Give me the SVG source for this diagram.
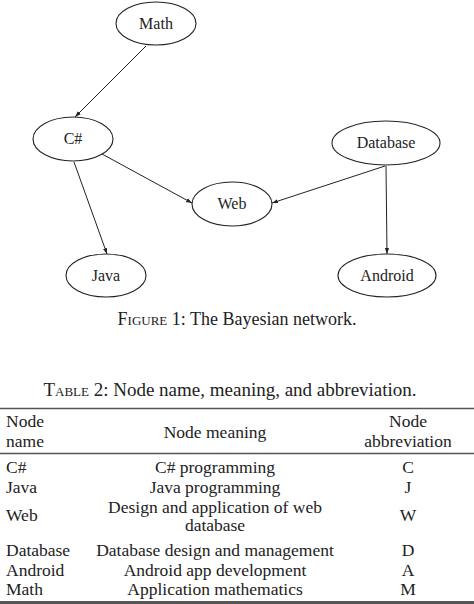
<svg xmlns="http://www.w3.org/2000/svg" width="474" height="604" viewBox="0 0 474 604">
<defs>
<style>
.n{fill:#fff;stroke:#222;stroke-width:1.1}
.lb{font-family:"Liberation Serif",serif;font-size:16px;fill:#222;text-anchor:middle}
.e{stroke:#222;stroke-width:1;fill:none;marker-end:url(#ah)}
.t{font-family:"Liberation Serif",serif;font-size:17.5px;fill:#222}
.c{font-family:"Liberation Serif",serif;font-size:18px;fill:#222;text-anchor:middle}
.sc{font-variant:small-caps}
.m{text-anchor:middle}
.rule{stroke:#555;fill:none}
</style>
<marker id="ah" viewBox="0 0 10 10" refX="10" refY="5" markerWidth="6" markerHeight="6" orient="auto" markerUnits="userSpaceOnUse">
<path d="M0,1.5 L10,5 L0,8.5 Z" fill="#222"/>
</marker>
</defs>
<rect width="474" height="604" fill="#fff"/>
<g id="connectors">
<line class="e" x1="146" y1="46" x2="75" y2="117"/>
<line class="e" x1="102" y1="154" x2="192" y2="203"/>
<line class="e" x1="74" y1="162" x2="107" y2="254"/>
<line class="e" x1="385" y1="166" x2="272" y2="203"/>
<line class="e" x1="386" y1="166" x2="387" y2="254"/>
</g>
<g id="node-math"><ellipse class="n" cx="156" cy="23.5" rx="40" ry="21.5"/><text class="lb" x="156" y="29">Math</text></g>
<g id="node-csharp"><ellipse class="n" cx="73" cy="139" rx="40" ry="22"/><text class="lb" x="73" y="144">C#</text></g>
<g id="node-database"><ellipse class="n" cx="386" cy="143" rx="54" ry="22"/><text class="lb" x="386" y="148">Database</text></g>
<g id="node-web"><ellipse class="n" cx="232" cy="204" rx="40" ry="22"/><text class="lb" x="232" y="209">Web</text></g>
<g id="node-java"><ellipse class="n" cx="106" cy="275.5" rx="40" ry="21.5"/><text class="lb" x="106" y="281">Java</text></g>
<g id="node-android"><ellipse class="n" cx="387" cy="275.5" rx="49" ry="21.5"/><text class="lb" x="387" y="281">Android</text></g>
<text class="c" x="237" y="325"><tspan class="sc">Figure</tspan> 1: The Bayesian network.</text>
<text class="c" x="230" y="396" style="font-size:19px"><tspan class="sc">Table</tspan> 2: Node name, meaning, and abbreviation.</text>
<line class="rule" x1="0" y1="408.5" x2="474" y2="408.5" stroke-width="1.5"/>
<line class="rule" x1="0" y1="453.5" x2="474" y2="453.5" stroke-width="1.5"/>
<line class="rule" x1="0" y1="602.5" x2="474" y2="602.5" stroke-width="3"/>
<g class="t">
<text x="6" y="427">Node</text>
<text x="6" y="447">name</text>
<text class="m" x="215" y="438">Node meaning</text>
<text class="m" x="408" y="427">Node</text>
<text class="m" x="408" y="447">abbreviation</text>
<text x="6" y="473">C#</text>
<text class="m" x="215" y="473">C# programming</text>
<text class="m" x="408" y="473">C</text>
<text x="6" y="493">Java</text>
<text class="m" x="215" y="493">Java programming</text>
<text class="m" x="408" y="493">J</text>
<text x="6" y="521">Web</text>
<text class="m" x="215" y="512.5">Design and application of web</text>
<text class="m" x="215" y="531">database</text>
<text class="m" x="408" y="521">W</text>
<text x="6" y="556">Database</text>
<text class="m" x="215" y="556">Database design and management</text>
<text class="m" x="408" y="556">D</text>
<text x="6" y="576">Android</text>
<text class="m" x="215" y="576">Android app development</text>
<text class="m" x="408" y="576">A</text>
<text x="6" y="595">Math</text>
<text class="m" x="215" y="595">Application mathematics</text>
<text class="m" x="408" y="595">M</text>
</g>
</svg>
